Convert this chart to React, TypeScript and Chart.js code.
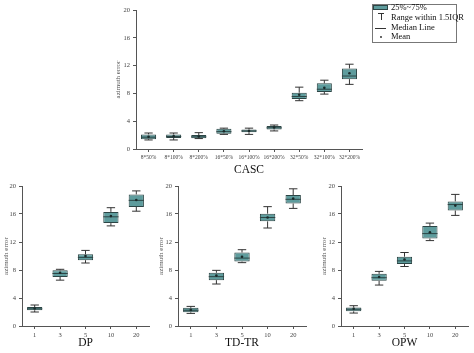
import React, { useEffect, useRef } from 'react';
import { Chart, registerables } from 'chart.js';
Chart.register(...registerables);

// ---------- data ----------
const cascLabels = ['8*50%', '8*100%', '8*200%', '16*50%', '16*100%', '16*200%', '32*50%', '32*100%', '32*200%'];
const cascMin = [1.3, 1.3, 1.5, 2.1, 2.1, 2.6, 6.95, 7.9, 9.3];
const cascQ1 = [1.4, 1.6, 1.55, 2.2, 2.4, 2.8, 7.2, 8.2, 10.05];
const cascMedian = [1.7, 1.8, 1.75, 2.5, 2.6, 3.05, 7.55, 8.6, 10.5];
const cascQ3 = [2.1, 2.1, 2.0, 2.9, 2.8, 3.3, 8.1, 9.45, 11.6];
const cascMax = [2.3, 2.3, 2.35, 3.0, 3.0, 3.45, 8.9, 9.9, 12.2];
const cascMean = [1.75, 1.85, 1.8, 2.55, 2.6, 3.1, 7.8, 8.8, 10.9];

const groupLabels = ['1', '3', '5', '10', '20'];

const dpMin = [2.0, 6.55, 9.0, 14.3, 16.4];
const dpQ1 = [2.25, 7.0, 9.4, 14.7, 17.0];
const dpMedian = [2.45, 7.5, 9.8, 15.6, 17.95];
const dpQ3 = [2.7, 7.95, 10.25, 16.3, 18.8];
const dpMax = [3.0, 8.1, 10.8, 16.9, 19.3];
const dpMean = [2.5, 7.6, 10.0, 15.7, 18.0];

const tdMin = [1.8, 6.0, 9.05, 14.0, 16.8];
const tdQ1 = [1.95, 6.55, 9.2, 14.95, 17.5];
const tdMedian = [2.25, 7.05, 9.7, 15.5, 18.1];
const tdQ3 = [2.6, 7.6, 10.5, 16.05, 18.7];
const tdMax = [2.8, 7.95, 10.9, 17.05, 19.6];
const tdMean = [2.3, 7.2, 9.9, 15.5, 18.2];

const opwMin = [1.85, 5.85, 8.5, 12.2, 15.8];
const opwQ1 = [2.1, 6.45, 8.85, 12.5, 16.5];
const opwMedian = [2.4, 6.9, 9.3, 13.2, 17.35];
const opwQ3 = [2.65, 7.45, 9.9, 14.3, 17.8];
const opwMax = [2.9, 7.8, 10.5, 14.7, 18.8];
const opwMean = [2.45, 7.0, 9.5, 13.4, 17.2];

const yTicks = [0, 4, 8, 12, 16, 20];
const legendItems = ['25%~75%', 'Range within 1.5IQR', 'Median Line', 'Mean'];

// ---------- styles ----------
const FILL = '#5e9c9d';
const EDGE = '#2c4545';
const AXIS = '#555555';
const SERIF = "'Liberation Serif', 'DejaVu Serif', serif";

type Stats = { min: number[]; q1: number[]; median: number[]; q3: number[]; max: number[]; mean: number[] };

function boxPlugin(stats: Stats) {
  return {
    id: 'boxExtras',
    afterDatasetsDraw(chart: any) {
      const ctx = chart.ctx;
      const y = chart.scales.y;
      const meta = chart.getDatasetMeta(0);
      ctx.save();
      meta.data.forEach((bar: any, i: number) => {
        const x = bar.x;
        const half = bar.width / 2;
        const cap = half * 0.55;
        const pMin = y.getPixelForValue(stats.min[i]);
        const pMax = y.getPixelForValue(stats.max[i]);
        const pQ1 = y.getPixelForValue(stats.q1[i]);
        const pQ3 = y.getPixelForValue(stats.q3[i]);
        const pMed = y.getPixelForValue(stats.median[i]);
        const pMean = y.getPixelForValue(stats.mean[i]);
        ctx.strokeStyle = '#333';
        ctx.lineWidth = 1;
        ctx.beginPath();
        ctx.moveTo(x, pQ3); ctx.lineTo(x, pMax);
        ctx.moveTo(x - cap, pMax); ctx.lineTo(x + cap, pMax);
        ctx.moveTo(x, pQ1); ctx.lineTo(x, pMin);
        ctx.moveTo(x - cap, pMin); ctx.lineTo(x + cap, pMin);
        ctx.stroke();
        ctx.strokeStyle = EDGE;
        ctx.beginPath();
        ctx.moveTo(x - half, pMed); ctx.lineTo(x + half, pMed);
        ctx.stroke();
        ctx.fillStyle = '#1a2a2a';
        ctx.beginPath();
        ctx.arc(x, pMean, 1.3, 0, Math.PI * 2);
        ctx.fill();
      });
      ctx.restore();
    },
  };
}

const legendPlugin = {
  id: 'boxLegend',
  afterDraw(chart: any) {
    const ctx = chart.ctx;
    ctx.save();
    const bx = 372, by = 4, bw = 84, bh = 38;
    ctx.strokeStyle = '#777';
    ctx.lineWidth = 1;
    ctx.strokeRect(bx + 0.5, by + 0.5, bw, bh);
    // swatch
    ctx.fillStyle = FILL;
    ctx.fillRect(bx + 1, by + 1, 15, 5);
    ctx.strokeStyle = EDGE;
    ctx.strokeRect(bx + 1.5, by + 1.5, 14, 4);
    // whisker symbol
    const cx = bx + 9;
    ctx.strokeStyle = '#333';
    ctx.beginPath();
    ctx.moveTo(cx - 3, by + 9.5); ctx.lineTo(cx + 3, by + 9.5);
    ctx.moveTo(cx + 0.5, by + 9.5); ctx.lineTo(cx + 0.5, by + 16);
    ctx.stroke();
    // median line
    ctx.beginPath();
    ctx.moveTo(bx + 3, by + 24.5); ctx.lineTo(bx + 14, by + 24.5);
    ctx.stroke();
    // mean dot
    ctx.fillStyle = '#222';
    ctx.beginPath();
    ctx.arc(cx, by + 33, 0.9, 0, Math.PI * 2);
    ctx.fill();
    // texts
    ctx.fillStyle = '#111';
    ctx.font = `8.5px ${SERIF}`;
    ctx.textBaseline = 'middle';
    const ys = [by + 4, by + 14, by + 24, by + 33];
    legendItems.forEach((t, i) => ctx.fillText(t, bx + 19, ys[i]));
    ctx.restore();
  },
};

type Props = {
  labels: string[];
  stats: Stats;
  title: string;
  left: number;
  top: number;
  w: number;
  h: number;
  pad: { left: number; right: number; top: number; bottom: number };
  yAxisW: number;
  xAxisH: number;
  xFont: number;
  legend?: boolean;
};

function BoxChart(p: Props) {
  const ref = useRef<HTMLCanvasElement>(null);
  useEffect(() => {
    const tickFont = { family: SERIF, size: 6.5 };
    const chart = new Chart(ref.current as HTMLCanvasElement, {
      type: 'bar',
      data: {
        labels: p.labels,
        datasets: [
          {
            data: p.labels.map((_, i) => [p.stats.q1[i], p.stats.q3[i]]) as any,
            backgroundColor: FILL,
            borderColor: EDGE,
            borderWidth: 1,
            borderSkipped: false,
            barPercentage: 0.6,
            categoryPercentage: 1,
          },
        ],
      },
      options: {
        animation: false,
        responsive: false,
        maintainAspectRatio: false,
        layout: { padding: p.pad },
        plugins: { legend: { display: false }, tooltip: { enabled: false } },
        scales: {
          x: {
            offset: true,
            grid: { display: true, drawOnChartArea: false, drawTicks: true, tickLength: 3, color: AXIS, offset: false },
            border: { display: true, color: AXIS },
            ticks: { font: { family: SERIF, size: p.xFont }, color: '#444', padding: 2, maxRotation: 0, autoSkip: false },
            title: { display: true, text: p.title, font: { family: SERIF, size: 11.5 }, color: '#111', padding: { top: 2, bottom: 3 } },
            afterFit: (s: any) => { s.height = p.xAxisH; },
          },
          y: {
            min: 0,
            max: 20,
            afterBuildTicks: (s: any) => { s.ticks = yTicks.map((v) => ({ value: v })); },
            grid: { display: true, drawOnChartArea: false, drawTicks: true, tickLength: 3, color: AXIS },
            border: { display: true, color: AXIS },
            ticks: { font: tickFont, color: '#444', padding: 3 },
            title: { display: true, text: 'azimuth error', font: { family: SERIF, size: 7 }, color: '#555', padding: { top: 2, bottom: 2 } },
            afterFit: (s: any) => { s.width = p.yAxisW; },
          },
        },
      } as any,
      plugins: [boxPlugin(p.stats), ...(p.legend ? [legendPlugin] : [])] as any,
    });
    return () => chart.destroy();
  }, []);
  return (
    <canvas
      ref={ref}
      width={p.w}
      height={p.h}
      style={{ position: 'absolute', left: p.left, top: p.top, width: p.w, height: p.h }}
    />
  );
}

export default function App() {
  useEffect(() => {
    document.body.style.margin = '0';
  }, []);
  const casc: Stats = { min: cascMin, q1: cascQ1, median: cascMedian, q3: cascQ3, max: cascMax, mean: cascMean };
  const dp: Stats = { min: dpMin, q1: dpQ1, median: dpMedian, q3: dpQ3, max: dpMax, mean: dpMean };
  const td: Stats = { min: tdMin, q1: tdQ1, median: tdMedian, q3: tdQ3, max: tdMax, mean: tdMean };
  const opw: Stats = { min: opwMin, q1: opwQ1, median: opwMedian, q3: opwQ3, max: opwMax, mean: opwMean };
  return (
    <div style={{ position: 'relative', width: 474, height: 353, background: '#fff', overflow: 'hidden' }}>
      <BoxChart labels={cascLabels} stats={casc} title="CASC" left={0} top={0} w={474} h={180}
        pad={{ left: 112, right: 112, top: 10, bottom: 0 }} yAxisW={24} xAxisH={31} xFont={5.5} legend />
      <BoxChart labels={groupLabels} stats={dp} title="DP" left={0} top={176} w={155} h={177}
        pad={{ left: 0, right: 6, top: 10, bottom: 0 }} yAxisW={22} xAxisH={27} xFont={6.5} />
      <BoxChart labels={groupLabels} stats={td} title="TD-TR" left={155} top={176} w={155} h={177}
        pad={{ left: 0, right: 4, top: 10, bottom: 0 }} yAxisW={23} xAxisH={27} xFont={6.5} />
      <BoxChart labels={groupLabels} stats={opw} title="OPW" left={318} top={176} w={156} h={177}
        pad={{ left: 0, right: 6, top: 10, bottom: 0 }} yAxisW={23} xAxisH={27} xFont={6.5} />
    </div>
  );
}
